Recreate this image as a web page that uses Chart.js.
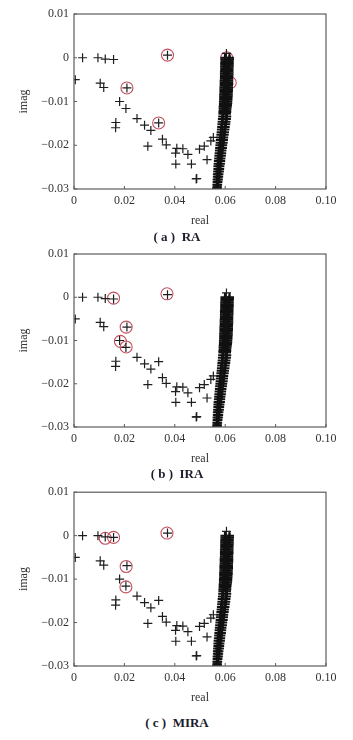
<!DOCTYPE html>
<html>
<head>
<meta charset="utf-8">
<script src="https://cdn.jsdelivr.net/npm/chart.js@4/dist/chart.umd.min.js"></script>
<style>
  html, body { margin: 0; padding: 0; background: #fff; }
  body { width: 353px; height: 740px; position: relative; overflow: hidden; }
  .panel { position: absolute; left: 0; width: 353px; }
  .cap { position: absolute; left: 0; width: 354px; text-align: center; font-family: "Liberation Serif", "DejaVu Serif", serif; font-weight: bold; font-size: 13px; color: #1c1c2e; line-height: 16px; white-space: pre; }
</style>
</head>
<body>
<div class="panel" id="pa"><canvas id="ca"></canvas></div>
<div class="panel" id="pb"><canvas id="cb"></canvas></div>
<div class="panel" id="pc"><canvas id="cc"></canvas></div>
<div class="cap" style="top:229px">( a )  RA</div>
<div class="cap" style="top:466px">( b )  IRA</div>
<div class="cap" style="top:715px">( c )  MIRA</div>
<script>
// ---- data (real, imag) ----
const xTickValues = [0, 0.02, 0.04, 0.06, 0.08, 0.10];
const xTickLabels = ["0", "0.02", "0.04", "0.06", "0.08", "0.10"];
const yTickValues = [0.01, 0, -0.01, -0.02, -0.03];
const yTickLabels = ["0.01", "0", "\u22120.01", "\u22120.02", "\u22120.03"];

// scattered poles (+)
const scatterPoles = [
  [0.0034, 0.0000], [0.0095, 0.0000], [0.0124, -0.0003], [0.0157, -0.0004],
  [0.0005, -0.0050], [0.0104, -0.0058], [0.0118, -0.0068], [0.0210, -0.0069],
  [0.0181, -0.0100], [0.0206, -0.0116], [0.0166, -0.0148], [0.0165, -0.0160],
  [0.0250, -0.0139], [0.0280, -0.0154], [0.0305, -0.0166], [0.0336, -0.0149],
  [0.0293, -0.0202], [0.0351, -0.0186], [0.0366, -0.0199],
  [0.0408, -0.0207], [0.0403, -0.0218], [0.0404, -0.0243], [0.0432, -0.0208],
  [0.0452, -0.0221], [0.0466, -0.0243], [0.0485, -0.0277], [0.0487, -0.0276],
  [0.0498, -0.0209], [0.0517, -0.0202], [0.0528, -0.0233], [0.0543, -0.0190],
  [0.0553, -0.0182], [0.0371, 0.0006], [0.0605, 0.0010]
];

// dense pole column, rows: [imag, real1, real2]
const columnRows = [
  [0.0000, 0.0599, 0.0617], [-0.0004, 0.0599, 0.0617], [-0.0008, 0.0599, 0.0616],
  [-0.0012, 0.0598, 0.0616], [-0.0016, 0.0598, 0.0616], [-0.0020, 0.0598, 0.0616],
  [-0.0024, 0.0598, 0.0615], [-0.0028, 0.0598, 0.0615], [-0.0032, 0.0597, 0.0615],
  [-0.0036, 0.0597, 0.0615], [-0.0040, 0.0597, 0.0615], [-0.0044, 0.0597, 0.0614],
  [-0.0048, 0.0597, 0.0614], [-0.0052, 0.0596, 0.0614], [-0.0056, 0.0596, 0.0614],
  [-0.0060, 0.0596, 0.0614], [-0.0064, 0.0596, 0.0613], [-0.0068, 0.0595, 0.0613],
  [-0.0072, 0.0595, 0.0613], [-0.0076, 0.0595, 0.0613], [-0.0080, 0.0595, 0.0612],
  [-0.0084, 0.0594, 0.0612], [-0.0088, 0.0594, 0.0612], [-0.0092, 0.0594, 0.0611],
  [-0.0096, 0.0594, 0.0611], [-0.0100, 0.0593, 0.0610], [-0.0104, 0.0593, 0.0610],
  [-0.0108, 0.0593, 0.0609], [-0.0112, 0.0592, 0.0608], [-0.0116, 0.0592, 0.0607],
  [-0.0120, 0.0592, 0.0606], [-0.0124, 0.0591, 0.0606], [-0.0128, 0.0591, 0.0605],
  [-0.0134, 0.0590, 0.0606], [-0.0140, 0.0589, 0.0605], [-0.0146, 0.0588, 0.0603],
  [-0.0152, 0.0587, 0.0602], [-0.0158, 0.0586, 0.0600], [-0.0164, 0.0585, 0.0599],
  [-0.0170, 0.0584, 0.0597], [-0.0176, 0.0583, 0.0596], [-0.0182, 0.0582, 0.0594],
  [-0.0188, 0.0581, 0.0593], [-0.0194, 0.0580, 0.0592], [-0.0200, 0.0579, 0.0590],
  [-0.0206, 0.0578, 0.0589], [-0.0212, 0.0577, 0.0587], [-0.0218, 0.0576, 0.0586],
  [-0.0224, 0.0575, 0.0585], [-0.0230, 0.0574, 0.0583], [-0.0236, 0.0573, 0.0582],
  [-0.0242, 0.0572, 0.0581], [-0.0248, 0.0571, 0.0579], [-0.0254, 0.0571, 0.0578],
  [-0.0260, 0.0570, 0.0577], [-0.0266, 0.0569, 0.0575], [-0.0272, 0.0569, 0.0574],
  [-0.0278, 0.0568, 0.0573], [-0.0284, 0.0568, 0.0571], [-0.0290, 0.0567, 0.0570],
  [-0.0296, 0.0567, 0.0569], [-0.0300, 0.0566, 0.0568]
];

// identified modes (red circles) per method
const circlesRA = [[0.0371, 0.0006], [0.0210, -0.0069], [0.0336, -0.0149], [0.0606, 0.0000], [0.0620, -0.0057]];
const circlesIRA = [[0.0369, 0.0008], [0.0157, -0.0002], [0.0207, -0.0069], [0.0184, -0.0102], [0.0207, -0.0115]];
const circlesMIRA = [[0.0369, 0.0006], [0.0124, -0.0006], [0.0157, -0.0004], [0.0207, -0.0071], [0.0206, -0.0118]];

// ---- build ----
const toXY = arr => arr.map(p => ({ x: p[0], y: p[1] }));
const columnPts = [];
columnRows.forEach(r => { columnPts.push({ x: r[1], y: r[0] }); columnPts.push({ x: r[2], y: r[0] }); });

const frameAndTicks = {
  id: 'frameAndTicks',
  afterDraw(chart) {
    const { ctx, chartArea: a, scales } = chart;
    ctx.save();
    ctx.strokeStyle = '#5c5c5c';
    ctx.lineWidth = 1.2;
    ctx.strokeRect(a.left, a.top, a.right - a.left, a.bottom - a.top);
    ctx.lineWidth = 1;
    ctx.beginPath();
    xTickValues.forEach(v => {
      const px = scales.x.getPixelForValue(v);
      ctx.moveTo(px, a.bottom); ctx.lineTo(px, a.bottom - 3);
    });
    yTickValues.forEach(v => {
      const py = scales.y.getPixelForValue(v);
      ctx.moveTo(a.left, py); ctx.lineTo(a.left + 3, py);
    });
    ctx.stroke();
    ctx.restore();
  }
};

function makeChart(canvasId, divId, divTop, plotTop, plotBottom, circles) {
  const div = document.getElementById(divId);
  const h = plotBottom - divTop + 41;
  div.style.top = divTop + 'px';
  div.style.height = h + 'px';
  const font = { family: '"Liberation Serif", "DejaVu Serif", serif', size: 12 };
  new Chart(document.getElementById(canvasId), {
    type: 'scatter',
    data: {
      datasets: [
        { data: toXY(scatterPoles), pointStyle: 'cross', pointRadius: 4.5, borderColor: '#1e1e1e', borderWidth: 1.2 },
        { data: columnPts, pointStyle: 'cross', pointRadius: 4.5, borderColor: '#111', borderWidth: 2 },
        { data: toXY(circles), pointStyle: 'circle', pointRadius: 6, borderColor: '#c4505e', borderWidth: 1.1, backgroundColor: 'rgba(0,0,0,0)' }
      ]
    },
    options: {
      responsive: true,
      maintainAspectRatio: false,
      animation: false,
      events: [],
      layout: { padding: { top: plotTop - divTop, right: 27, left: 0, bottom: 0 } },
      plugins: { legend: { display: false }, tooltip: { enabled: false } },
      scales: {
        x: {
          type: 'linear', min: 0, max: 0.1,
          afterBuildTicks: s => { s.ticks = xTickValues.map(v => ({ value: v })); },
          afterFit: s => { s.height = 41; },
          grid: { display: false, drawTicks: false },
          border: { display: false },
          ticks: { padding: 5, color: '#333', font, maxRotation: 0, autoSkip: false,
                   callback: (v, i) => xTickLabels[i] },
          title: { display: true, text: 'real', color: '#333', font, padding: { top: 0, bottom: 2 } }
        },
        y: {
          type: 'linear', min: -0.03, max: 0.01,
          afterBuildTicks: s => { s.ticks = yTickValues.map(v => ({ value: v })); },
          afterFit: s => { s.width = 74; },
          grid: { display: false, drawTicks: false },
          border: { display: false },
          ticks: { padding: 5, color: '#333', font, autoSkip: false,
                   callback: (v, i) => yTickLabels[i] },
          title: { display: true, text: 'imag', color: '#333', font, padding: { top: 17, bottom: 0 } }
        }
      }
    },
    plugins: [frameAndTicks]
  });
}

makeChart('ca', 'pa', 0, 14, 189, circlesRA);
makeChart('cb', 'pb', 240, 254, 427, circlesIRA);
makeChart('cc', 'pc', 480, 491, 666, circlesMIRA);
</script>
</body>
</html>
